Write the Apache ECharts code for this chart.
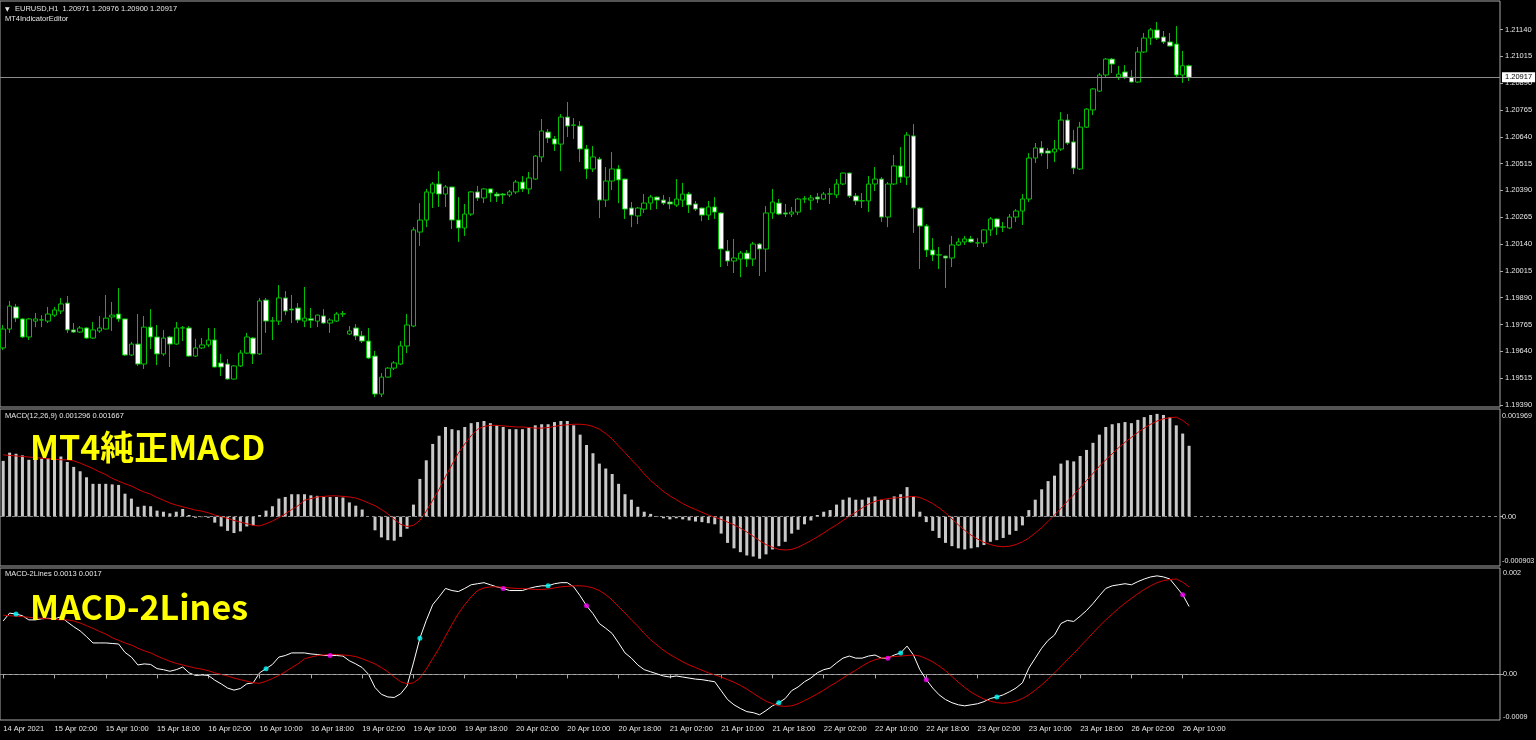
<!DOCTYPE html>
<html><head><meta charset="utf-8">
<script src="https://cdn.jsdelivr.net/npm/echarts@6/dist/echarts.min.js"></script>
<style>html,body{margin:0;padding:0;background:#000;overflow:hidden}#c{width:1536px;height:740px;}</style>
</head><body><div id="c"></div>
<script>
// ---------- DATA ----------
const xTickLabels = ['14 Apr 2021','15 Apr 02:00','15 Apr 10:00','15 Apr 18:00','16 Apr 02:00','16 Apr 10:00','16 Apr 18:00','19 Apr 02:00','19 Apr 10:00','19 Apr 18:00','20 Apr 02:00','20 Apr 10:00','20 Apr 18:00','21 Apr 02:00','21 Apr 10:00','21 Apr 18:00','22 Apr 02:00','22 Apr 10:00','22 Apr 18:00','23 Apr 02:00','23 Apr 10:00','23 Apr 18:00','26 Apr 02:00','26 Apr 10:00'];
const priceTickLabels = ['1.19390','1.19515','1.19640','1.19765','1.19890','1.20015','1.20140','1.20265','1.20390','1.20515','1.20640','1.20765','1.20890','1.21015','1.21140'];
const macdTickLabels = ['-0.000903','0.00','0.001969'];
const macdTickValues = [-0.000903, 0, 0.001969];
const macd2TickLabels = ['-0.0009','0.00','0.002'];
const macd2TickValues = [-0.00087, 0, 0.00203];
const lastPriceLabel = '1.20917';

const open = [1.19656,1.19744,1.19847,1.19791,1.19707,1.19781,1.19786,1.19781,1.19809,1.19828,
1.19865,1.19740,1.19730,1.19749,1.19702,1.19735,1.19744,1.19800,1.19814,1.19791,
1.19623,1.19674,1.19581,1.19753,1.19707,1.19628,1.19707,1.19674,1.19749,1.19749,
1.19618,1.19656,1.19670,1.19693,1.19586,1.19581,1.19511,1.19572,1.19632,1.19702,
1.19628,1.19879,1.19781,1.19781,1.19889,1.19837,1.19842,1.19781,1.19792,1.19781,
1.19805,1.19772,1.19781,1.19814,1.19721,1.19749,1.19712,1.19688,1.19618,1.19441,
1.19520,1.19562,1.19581,1.19665,1.19758,1.20196,1.20252,1.20378,1.20420,1.20373,
1.20406,1.20252,1.20215,1.20280,1.20383,1.20355,1.20397,1.20373,1.20373,1.20369,
1.20383,1.20429,1.20397,1.20443,1.20546,1.20662,1.20630,1.20606,1.20732,1.20695,
1.20690,1.20583,1.20490,1.20536,1.20345,1.20434,1.20490,1.20443,1.20308,1.20271,
1.20303,1.20331,1.20359,1.20345,1.20336,1.20322,1.20345,1.20373,1.20327,1.20308,
1.20275,1.20313,1.20285,1.20108,1.20061,1.20070,1.20098,1.20070,1.20140,1.20117,
1.20285,1.20331,1.20285,1.20280,1.20289,1.20350,1.20345,1.20359,1.20350,1.20373,
1.20369,1.20420,1.20471,1.20364,1.20341,1.20341,1.20420,1.20443,1.20266,1.20420,
1.20504,1.20452,1.20644,1.20308,1.20224,1.20112,1.20089,1.20084,1.20075,1.20136,
1.20150,1.20164,1.20145,1.20145,1.20206,1.20257,1.20219,1.20215,1.20266,1.20294,
1.20350,1.20541,1.20588,1.20574,1.20569,1.20583,1.20718,1.20616,1.20490,1.20685,
1.20765,1.20853,1.20928,1.21002,1.20918,1.20942,1.20918,1.20895,1.21035,1.21100,
1.21138,1.21105,1.21082,1.21072,1.20928,1.20971];
const close = [1.19744,1.19851,1.19795,1.19707,1.19791,1.19791,1.19787,1.19814,1.19833,1.19861,
1.19740,1.19730,1.19749,1.19702,1.19740,1.19749,1.19795,1.19809,1.19791,1.19623,
1.19674,1.19581,1.19753,1.19707,1.19628,1.19702,1.19674,1.19749,1.19750,1.19618,
1.19656,1.19670,1.19693,1.19567,1.19567,1.19511,1.19572,1.19632,1.19707,1.19628,
1.19875,1.19781,1.19782,1.19889,1.19828,1.19833,1.19786,1.19795,1.19785,1.19809,
1.19772,1.19786,1.19814,1.19815,1.19735,1.19712,1.19688,1.19609,1.19441,1.19520,
1.19562,1.19586,1.19665,1.19763,1.20206,1.20252,1.20383,1.20420,1.20373,1.20406,
1.20252,1.20215,1.20280,1.20383,1.20355,1.20397,1.20378,1.20364,1.20369,1.20383,
1.20429,1.20397,1.20448,1.20550,1.20667,1.20634,1.20606,1.20732,1.20690,1.20694,
1.20583,1.20490,1.20546,1.20345,1.20434,1.20490,1.20439,1.20303,1.20275,1.20308,
1.20331,1.20359,1.20345,1.20331,1.20327,1.20350,1.20373,1.20322,1.20303,1.20275,
1.20313,1.20289,1.20117,1.20061,1.20075,1.20098,1.20070,1.20140,1.20117,1.20285,
1.20336,1.20280,1.20280,1.20289,1.20350,1.20351,1.20355,1.20350,1.20373,1.20374,
1.20420,1.20471,1.20364,1.20341,1.20342,1.20420,1.20443,1.20266,1.20420,1.20504,
1.20452,1.20648,1.20308,1.20224,1.20112,1.20089,1.20090,1.20075,1.20136,1.20150,
1.20164,1.20150,1.20146,1.20206,1.20257,1.20219,1.20220,1.20266,1.20294,1.20350,
1.20541,1.20588,1.20564,1.20564,1.20583,1.20718,1.20611,1.20494,1.20685,1.20769,
1.20863,1.20928,1.21002,1.20979,1.20932,1.20918,1.20895,1.21035,1.21100,1.21138,
1.21100,1.21082,1.21063,1.20928,1.20971,1.20917];
const high = [1.19763,1.19875,1.19861,1.19795,1.19795,1.19819,1.19809,1.19847,1.19847,1.19889,
1.19898,1.19772,1.19758,1.19753,1.19777,1.19805,1.19903,1.19870,1.19935,1.19793,
1.19684,1.19814,1.19805,1.19837,1.19763,1.19740,1.19712,1.19777,1.19758,1.19758,
1.19698,1.19702,1.19749,1.19749,1.19628,1.19604,1.19576,1.19646,1.19726,1.19707,
1.19889,1.19889,1.19800,1.19949,1.19921,1.19903,1.19865,1.19940,1.19842,1.19812,
1.19837,1.19795,1.19823,1.19828,1.19758,1.19767,1.19735,1.19749,1.19642,1.19539,
1.19567,1.19595,1.19688,1.19814,1.20219,1.20331,1.20397,1.20429,1.20480,1.20415,
1.20408,1.20359,1.20327,1.20387,1.20411,1.20401,1.20399,1.20383,1.20378,1.20392,
1.20439,1.20457,1.20476,1.20555,1.20723,1.20676,1.20644,1.20746,1.20802,1.20727,
1.20713,1.20602,1.20597,1.20546,1.20499,1.20569,1.20508,1.20445,1.20336,1.20313,
1.20373,1.20369,1.20361,1.20369,1.20359,1.20443,1.20425,1.20383,1.20341,1.20310,
1.20341,1.20359,1.20289,1.20159,1.20164,1.20108,1.20112,1.20150,1.20145,1.20317,
1.20397,1.20350,1.20327,1.20313,1.20355,1.20364,1.20369,1.20378,1.20383,1.20401,
1.20443,1.20473,1.20473,1.20378,1.20378,1.20457,1.20499,1.20452,1.20429,1.20555,
1.20592,1.20662,1.20699,1.20313,1.20233,1.20168,1.20126,1.20086,1.20178,1.20168,
1.20178,1.20178,1.20168,1.20208,1.20266,1.20261,1.20243,1.20280,1.20303,1.20373,
1.20564,1.20611,1.20620,1.20588,1.20625,1.20755,1.20746,1.20672,1.20709,1.20774,
1.20867,1.20937,1.21007,1.21007,1.20970,1.20974,1.20951,1.21058,1.21124,1.21147,
1.21175,1.21133,1.21124,1.21156,1.21040,1.20976];
const low = [1.19646,1.19726,1.19777,1.19702,1.19693,1.19753,1.19753,1.19772,1.19800,1.19814,
1.19726,1.19726,1.19726,1.19698,1.19698,1.19726,1.19742,1.19735,1.19777,1.19618,
1.19618,1.19572,1.19558,1.19651,1.19576,1.19618,1.19567,1.19670,1.19688,1.19614,
1.19614,1.19651,1.19660,1.19565,1.19525,1.19507,1.19509,1.19567,1.19628,1.19581,
1.19623,1.19726,1.19693,1.19763,1.19809,1.19772,1.19772,1.19753,1.19749,1.19753,
1.19767,1.19726,1.19777,1.19800,1.19716,1.19693,1.19679,1.19604,1.19427,1.19427,
1.19518,1.19553,1.19576,1.19632,1.19753,1.20131,1.20219,1.20308,1.20313,1.20313,
1.20210,1.20150,1.20178,1.20271,1.20341,1.20331,1.20336,1.20336,1.20327,1.20359,
1.20373,1.20383,1.20373,1.20439,1.20522,1.20611,1.20574,1.20480,1.20639,1.20630,
1.20522,1.20443,1.20476,1.20261,1.20313,1.20392,1.20331,1.20257,1.20219,1.20233,
1.20285,1.20299,1.20303,1.20322,1.20303,1.20313,1.20313,1.20285,1.20294,1.20247,
1.20252,1.20257,1.20033,1.20038,1.20005,1.19986,1.20033,1.20038,1.19991,1.20010,
1.20257,1.20275,1.20266,1.20266,1.20275,1.20331,1.20299,1.20331,1.20345,1.20327,
1.20355,1.20415,1.20355,1.20322,1.20308,1.20289,1.20387,1.20243,1.20219,1.20415,
1.20425,1.20415,1.20192,1.20024,1.20080,1.20061,1.20024,1.19935,1.20033,1.20131,
1.20136,1.20145,1.20126,1.20126,1.20178,1.20182,1.20196,1.20210,1.20243,1.20229,
1.20336,1.20518,1.20550,1.20490,1.20522,1.20574,1.20602,1.20466,1.20485,1.20681,
1.20741,1.20849,1.20918,1.20937,1.20905,1.20909,1.20893,1.20891,1.21030,1.21068,
1.21091,1.21072,1.21061,1.20918,1.20891,1.20900];

const macd = [0.00102,0.00117,0.00115,0.00112,0.00104,0.00104,0.00106,0.00107,0.00106,0.00110,
0.00100,0.00091,0.00083,0.00072,0.00060,0.00060,0.00060,0.00059,0.00058,0.00042,
0.00033,0.00018,0.00020,0.00019,0.00011,0.00009,0.00006,0.00009,0.00014,0.00003,
-0.00002,-0.00001,-0.00002,-0.00011,-0.00018,-0.00026,-0.00030,-0.00027,-0.00018,-0.00016,
0.00003,0.00011,0.00019,0.00033,0.00036,0.00041,0.00041,0.00041,0.00039,0.00038,
0.00036,0.00036,0.00036,0.00035,0.00026,0.00020,0.00013,0.00000,-0.00025,-0.00038,
-0.00043,-0.00044,-0.00037,-0.00022,0.00022,0.00069,0.00103,0.00133,0.00148,0.00164,
0.00160,0.00158,0.00164,0.00171,0.00173,0.00175,0.00171,0.00167,0.00164,0.00160,
0.00160,0.00160,0.00164,0.00167,0.00169,0.00169,0.00173,0.00175,0.00175,0.00167,
0.00150,0.00131,0.00116,0.00097,0.00088,0.00078,0.00060,0.00041,0.00031,0.00018,
0.00009,0.00005,0.00001,-0.00003,-0.00005,-0.00003,-0.00005,-0.00007,-0.00009,-0.00010,
-0.00012,-0.00014,-0.00031,-0.00048,-0.00058,-0.00065,-0.00071,-0.00073,-0.00077,-0.00069,
-0.00060,-0.00054,-0.00046,-0.00031,-0.00024,-0.00014,-0.00007,0.00003,0.00009,0.00012,
0.00022,0.00031,0.00035,0.00031,0.00031,0.00035,0.00037,0.00031,0.00031,0.00037,
0.00041,0.00054,0.00037,0.00009,-0.00010,-0.00026,-0.00039,-0.00048,-0.00054,-0.00058,
-0.00060,-0.00058,-0.00056,-0.00052,-0.00046,-0.00043,-0.00039,-0.00033,-0.00026,-0.00016,
0.00012,0.00031,0.00050,0.00065,0.00075,0.00097,0.00103,0.00101,0.00111,0.00122,
0.00135,0.00150,0.00164,0.00169,0.00171,0.00173,0.00171,0.00177,0.00182,0.00186,
0.00188,0.00186,0.00182,0.00167,0.00152,0.001296];
const signal = [0.00113,0.00112,0.00111,0.00110,0.00109,0.00108,0.00107,0.00106,0.00105,0.00104,
0.00104,0.00102,0.00098,0.00093,0.00088,0.00082,0.00077,0.00070,0.00065,0.00060,
0.00056,0.00050,0.00045,0.00041,0.00035,0.00030,0.00025,0.00021,0.00018,0.00015,
0.00012,0.00010,0.00007,0.00003,0.00000,-0.00003,-0.00007,-0.00010,-0.00013,-0.00016,
-0.00017,-0.00013,-0.00008,-0.00002,0.00005,0.00013,0.00020,0.00030,0.00033,0.00036,
0.00037,0.00038,0.00038,0.00037,0.00036,0.00034,0.00030,0.00025,0.00020,0.00013,
0.00005,-0.00005,-0.00014,-0.00018,-0.00016,-0.00007,0.00010,0.00030,0.00050,0.00073,
0.00095,0.00116,0.00133,0.00148,0.00160,0.00165,0.00167,0.00167,0.00166,0.00165,
0.00164,0.00164,0.00163,0.00162,0.00162,0.00163,0.00165,0.00167,0.00168,0.00169,
0.00169,0.00168,0.00165,0.00160,0.00152,0.00142,0.00129,0.00117,0.00104,0.00092,
0.00078,0.00066,0.00056,0.00046,0.00038,0.00031,0.00024,0.00018,0.00013,0.00008,
0.00003,-0.00001,-0.00005,-0.00010,-0.00015,-0.00021,-0.00028,-0.00036,-0.00044,-0.00051,
-0.00056,-0.00060,-0.00061,-0.00060,-0.00056,-0.00050,-0.00044,-0.00037,-0.00030,-0.00022,
-0.00015,-0.00007,0.00001,0.00008,0.00016,0.00023,0.00028,0.00031,0.00033,0.00034,
0.00035,0.00036,0.00037,0.00035,0.00030,0.00024,0.00016,0.00007,-0.00004,-0.00015,
-0.00025,-0.00034,-0.00041,-0.00047,-0.00051,-0.00054,-0.00055,-0.00054,-0.00051,-0.00046,
-0.00039,-0.00030,-0.00020,-0.00009,0.00003,0.00015,0.00028,0.00040,0.00053,0.00066,
0.00079,0.00092,0.00104,0.00115,0.00126,0.00136,0.00145,0.00154,0.00162,0.00169,
0.00175,0.00179,0.00181,0.00182,0.00176,0.001667];
const crossUpBars = [2,41,65,85,121,140,155];
const crossDownBars = [51,78,91,138,144,184];

// ---------- CHART ----------
const FONT = 'Liberation Sans, Arial, sans-serif';
const TXT = '#e6e6e6';
const FRAME = '#a8a8a8';
const N_SLOTS = 234;
const cats = Array.from({length: N_SLOTS}, (_, i) => String(i));
const isTick = i => i % 8 === 0 && i / 8 < xTickLabels.length;
const pickBy = (vals) => (v) => { let b = 0, d = Infinity; vals.forEach((s, k) => { const e = Math.abs(s - v); if (e < d) { d = e; b = k; } }); return b; };

const chart = echarts.init(document.getElementById('c'), null, {renderer: 'canvas'});
const gridBase = {left: 0, width: 1500, show: true, borderColor: FRAME, borderWidth: 1, backgroundColor: 'transparent', containLabel: false, outerBoundsMode: 'none'};

function subYAxis(g, vals, labels, padTop, padBot, margin) {
  const idx = pickBy(vals);
  const fs = 7.2;
  return {
    type: 'value', gridIndex: g, position: 'right', min: vals[0], max: vals[vals.length - 1],
    axisLine: {show: false}, splitLine: {show: false},
    axisTick: {show: true, customValues: [0], length: 3, lineStyle: {color: FRAME}},
    axisLabel: {
      customValues: vals, margin: margin, color: TXT, fontSize: fs, fontFamily: FONT,
      formatter: v => { const k = idx(v); const s = labels[k]; return k === labels.length - 1 ? '{t|' + s + '}' : (k === 0 ? '{b|' + s + '}' : '{m|' + s + '}'); },
      rich: {
        t: {padding: [padTop, 0, 0, 0], color: TXT, fontSize: fs, fontFamily: FONT},
        b: {padding: [0, 0, padBot, 0], color: TXT, fontSize: fs, fontFamily: FONT},
        m: {color: TXT, fontSize: fs, fontFamily: FONT}
      }
    }
  };
}
const priceVals = priceTickLabels.map(Number);
const priceIdx = pickBy(priceVals);

const option = {
  backgroundColor: '#000',
  animation: false,
  grid: [
    Object.assign({top: 1, height: 406}, gridBase),
    Object.assign({top: 409, height: 157}, gridBase),
    Object.assign({top: 568, height: 152}, gridBase)
  ],
  xAxis: [0, 1, 2].map(g => ({
    type: 'category', gridIndex: g, data: cats, boundaryGap: true,
    axisLine: {show: g === 2, lineStyle: {color: FRAME}},
    axisTick: {show: g === 2, alignWithLabel: true, interval: i => isTick(i), length: 4, lineStyle: {color: FRAME}},
    axisLabel: {show: g === 2, interval: i => isTick(i), formatter: (v, i) => isTick(i) ? xTickLabels[i / 8] : '',
      align: 'left', color: TXT, fontSize: 7.5, fontFamily: FONT, margin: 5},
    splitLine: {show: false}
  })),
  yAxis: [
    {
      type: 'value', gridIndex: 0, position: 'right', min: 1.193807, max: 1.212728, scale: true,
      axisLine: {show: false}, splitLine: {show: false},
      axisTick: {show: true, customValues: priceVals, length: 3, lineStyle: {color: FRAME}},
      axisLabel: {customValues: priceVals, formatter: v => priceTickLabels[priceIdx(v)], margin: 5,
        color: TXT, fontSize: 7.5, fontFamily: FONT}
    },
    subYAxis(1, macdTickValues, macdTickLabels, 14, 10, 2),
    subYAxis(2, macd2TickValues, macd2TickLabels, 10, 6, 3)
  ],
  series: [
    {
      type: 'candlestick', xAxisIndex: 0, yAxisIndex: 0, barWidth: 5,
      data: open.map((o, i) => [o, close[i], low[i], high[i]]),
      itemStyle: {color: '#000', color0: '#fff', borderColor: '#00c000', borderColor0: '#00c000', borderColorDoji: '#00c000', borderWidth: 1},
      emphasis: {disabled: true},
      markLine: {
        silent: true, symbol: ['none', 'none'], animation: false, precision: 5,
        data: [{yAxis: Number(lastPriceLabel)}],
        lineStyle: {color: '#8c8c8c', width: 1, type: 'solid'},
        label: {show: true, position: 'end', formatter: lastPriceLabel, distance: 2, backgroundColor: '#fff', color: '#000',
          fontSize: 7.5, fontFamily: FONT, padding: [1, 3, 1, 3]}
      }
    },
    {
      type: 'bar', xAxisIndex: 1, yAxisIndex: 1, barWidth: 3, data: macd,
      itemStyle: {color: '#c8c8c8'}, emphasis: {disabled: true},
      markLine: {silent: true, symbol: ['none', 'none'], animation: false, data: [{yAxis: 0}],
        lineStyle: {color: '#8c8c8c', width: 1, type: [3, 3]}, label: {show: false}}
    },
    {
      type: 'line', xAxisIndex: 1, yAxisIndex: 1, data: signal, symbol: 'none',
      lineStyle: {color: '#d00000', width: 1}, emphasis: {disabled: true}, z: 3
    },
    {
      type: 'line', xAxisIndex: 2, yAxisIndex: 2, data: macd, symbol: 'none',
      lineStyle: {color: '#ffffff', width: 1}, emphasis: {disabled: true},
      markLine: {silent: true, symbol: ['none', 'none'], animation: false, data: [{yAxis: 0}],
        lineStyle: {color: '#8c8c8c', width: 1, type: [3, 3]}, label: {show: false}}
    },
    {
      type: 'line', xAxisIndex: 2, yAxisIndex: 2, data: signal, symbol: 'none',
      lineStyle: {color: '#d00000', width: 1}, emphasis: {disabled: true}
    },
    {
      type: 'scatter', xAxisIndex: 2, yAxisIndex: 2, symbolSize: 5, z: 5,
      data: crossUpBars.map(i => [i, macd[i]]), itemStyle: {color: '#00ffff'}, emphasis: {disabled: true}
    },
    {
      type: 'scatter', xAxisIndex: 2, yAxisIndex: 2, symbolSize: 5, z: 5,
      data: crossDownBars.map(i => [i, macd[i]]), itemStyle: {color: '#ff00ff'}, emphasis: {disabled: true}
    }
  ],
  graphic: [
    {type: 'text', x: 5, y: 9, style: {text: '\u25BC', fill: TXT, font: '6px "DejaVu Sans"', verticalAlign: 'middle'}},
    {type: 'text', x: 15, y: 9, style: {text: 'EURUSD,H1  1.20971 1.20976 1.20900 1.20917', fill: TXT, font: '7.5px "Liberation Sans"', verticalAlign: 'middle'}},
    {type: 'text', x: 5, y: 19, style: {text: 'MT4IndicatorEditor', fill: TXT, font: '7.5px "Liberation Sans"', verticalAlign: 'middle'}},
    {type: 'text', x: 5, y: 416, style: {text: 'MACD(12,26,9) 0.001296 0.001667', fill: TXT, font: '7.5px "Liberation Sans"', verticalAlign: 'middle'}},
    {type: 'text', x: 5, y: 574, style: {text: 'MACD-2Lines 0.0013 0.0017', fill: TXT, font: '7.5px "Liberation Sans"', verticalAlign: 'middle'}},
    {type: 'text', x: 30, y: 447, z: 100, style: {text: 'MT4純正MACD', fill: '#ffff00', font: 'bold 34px "Noto Sans CJK JP"', verticalAlign: 'middle'}},
    {type: 'text', x: 30, y: 607, z: 100, style: {text: 'MACD-2Lines', fill: '#ffff00', font: 'bold 34px "Noto Sans CJK JP"', verticalAlign: 'middle'}}
  ]
};
chart.setOption(option);
</script>
</body></html>
